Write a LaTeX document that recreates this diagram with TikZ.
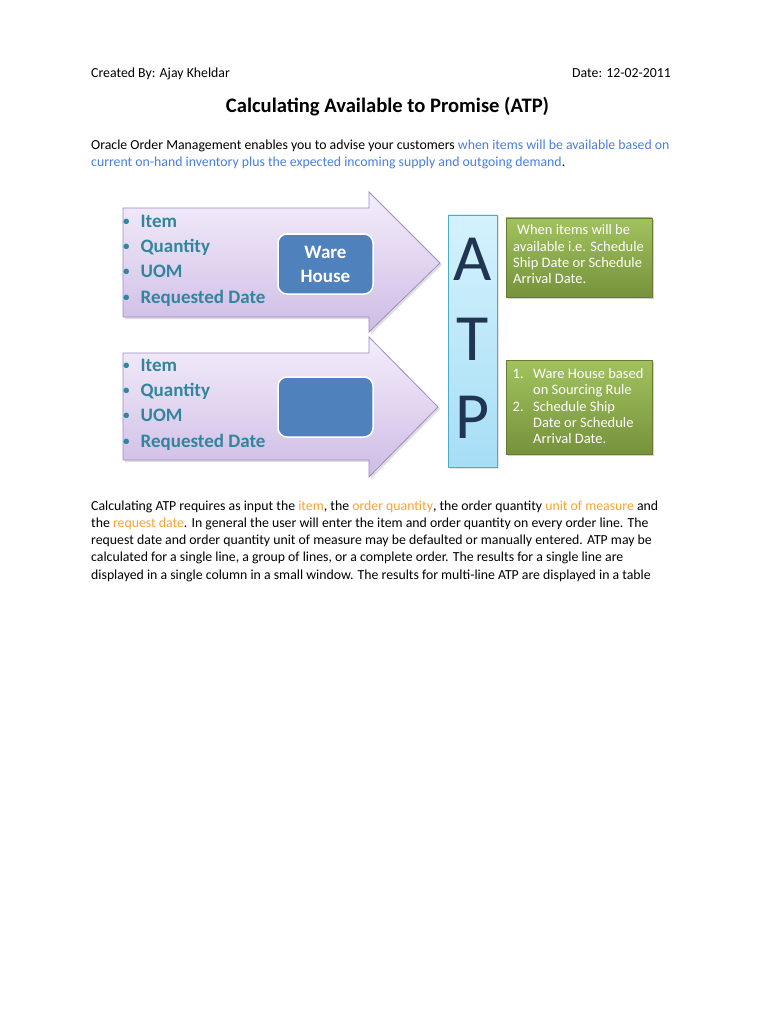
\documentclass[tikz,border=0pt]{standalone}
\usepackage{fontspec}
\setmainfont{Carlito}
\usepackage{xcolor}
\usepackage{tikz}
\usetikzlibrary{shadows}

\definecolor{linkblue}{RGB}{74,126,222}
\definecolor{hiorange}{RGB}{247,163,54}
\definecolor{bullteal}{RGB}{49,133,156}
\definecolor{arrowtop}{RGB}{244,238,251}
\definecolor{arrowbot}{RGB}{206,188,229}
\definecolor{arrowedge}{RGB}{160,138,196}
\definecolor{whboxblue}{RGB}{79,129,189}
\definecolor{atptop}{RGB}{212,242,253}
\definecolor{atpbot}{RGB}{166,222,246}
\definecolor{atpedge}{RGB}{75,172,198}
\definecolor{atpnavy}{RGB}{31,53,82}
\definecolor{greentop}{RGB}{162,194,94}
\definecolor{greenbot}{RGB}{118,146,60}

\newcommand{\smallbullet}{\raisebox{1.8pt}{\fontsize{13}{13}\selectfont\textbullet}\hspace{11pt}}

\begin{document}
\begin{tikzpicture}[x=1pt,y=-1pt,
  bodyline/.style={anchor=base west,inner sep=0pt,font=\fontsize{13.8}{16.5}\selectfont},
  bulletline/.style={anchor=base west,inner sep=0pt,text=bullteal,font=\fontsize{19}{23}\selectfont\bfseries},
  blockarrow/.style={draw=arrowedge,line width=0.8pt,top color=arrowtop,bottom color=arrowbot,drop shadow={shadow xshift=2pt,shadow yshift=-2pt,opacity=0.25}},
  bluebox/.style={rectangle,rounded corners=9pt,draw=white,line width=1.5pt,fill=whboxblue,minimum width=95pt,minimum height=60pt,text=white,align=center,font=\fontsize{19}{24}\selectfont\bfseries},
  greenbox/.style={rectangle,top color=greentop,bottom color=greenbot,draw=greenbot!85!black,line width=0.4pt,minimum width=146pt,inner sep=0pt,drop shadow={shadow xshift=2pt,shadow yshift=-2pt,opacity=0.35}},
  greentext/.style={anchor=base west,inner sep=0pt,align=left,text=white,font=\fontsize{14.5}{16.2}\selectfont},
  atpchar/.style={anchor=base,inner sep=0pt,text=atpnavy,font=\fontsize{66}{66}\selectfont}]
  \useasboundingbox (0,0) rectangle (768,1024);
  \fill[white] (0,0) rectangle (768,1024);
  \node[bodyline] (author) at (91,77.5) {Created By: Ajay Kheldar};
  \node[bodyline,anchor=base east] (date) at (671,77.5) {Date: 12-02-2011};
  \node[anchor=base,inner sep=0pt,font=\fontsize{20.6}{24}\selectfont\bfseries] (title) at (387.5,113) {Calculating Available to Promise (ATP)};
  \node[bodyline] (intro1) at (91,149.5) {Oracle Order Management enables you to advise your customers \textcolor{linkblue}{when items will be available based on}};
  \node[bodyline] (intro2) at (91,166.5) {\textcolor{linkblue}{current on-hand inventory plus the expected incoming supply and outgoing demand}.};
  \draw[blockarrow] (123,353) -- (369,353) -- (369,337) -- (438,407) -- (369,477) -- (369,460) -- (123,460) -- cycle;
  \draw[blockarrow] (123,208) -- (369,208) -- (369,192) -- (440,263) -- (369,332) -- (369,317) -- (123,317) -- cycle;
  \node[bulletline] (item1) at (123,227) {\smallbullet Item};
  \node[bulletline] (qty1) at (123,252) {\smallbullet Quantity};
  \node[bulletline] (uom1) at (123,277) {\smallbullet UOM};
  \node[bulletline] (rdate1) at (123,303) {\smallbullet Requested Date};
  \node[bulletline] (item2) at (123,371) {\smallbullet Item};
  \node[bulletline] (qty2) at (123,396) {\smallbullet Quantity};
  \node[bulletline] (uom2) at (123,421) {\smallbullet UOM};
  \node[bulletline] (rdate2) at (123,447) {\smallbullet Requested Date};
  \node[bluebox] (whouse) at (325.5,264) {Ware\\House};
  \node[bluebox] (blank) at (325.5,407) {};
  \node[rectangle,top color=atptop,bottom color=atpbot,draw=atpedge,line width=0.8pt,minimum width=49pt,minimum height=252pt,drop shadow={shadow xshift=1.5pt,shadow yshift=-1.5pt,opacity=0.2}] (atpcol) at (472.5,341) {};
  \node[atpchar] (letA) at (472.5,280) {A};
  \node[atpchar] (letT) at (472.5,360) {T};
  \node[atpchar] (letP) at (472.5,438) {P};
  \node[greenbox,minimum height=79pt] (gbox1) at (579,257.5) {};
  \node[greenbox,minimum height=94pt] (gbox2) at (579,407) {};
  \node[greentext] (gtext1) at (513,283.5) {\hspace{4pt}When items will be\\available i.e. Schedule\\Ship Date or Schedule\\Arrival Date.};
  \node[greentext] (gtext2) at (512.5,443.5) {\makebox[20.5pt][l]{1.}Ware House based\\\hspace*{20.5pt}on Sourcing Rule\\\makebox[20.5pt][l]{2.}Schedule Ship\\\hspace*{20.5pt}Date or Schedule\\\hspace*{20.5pt}Arrival Date.};
  \node[bodyline] (para1) at (91,510.5) {Calculating ATP requires as input the \textcolor{hiorange}{item}, the \textcolor{hiorange}{order quantity}, the order quantity \textcolor{hiorange}{unit of measure} and};
  \node[bodyline] (para2) at (91,527.5) {the \textcolor{hiorange}{request date}. In general the user will enter the item and order quantity on every order line. The};
  \node[bodyline] (para3) at (91,544.5) {request date and order quantity unit of measure may be defaulted or manually entered. ATP may be};
  \node[bodyline] (para4) at (91,561.5) {calculated for a single line, a group of lines, or a complete order. The results for a single line are};
  \node[bodyline] (para5) at (91,579) {displayed in a single column in a small window. The results for multi-line ATP are displayed in a table};
\end{tikzpicture}
\end{document}
